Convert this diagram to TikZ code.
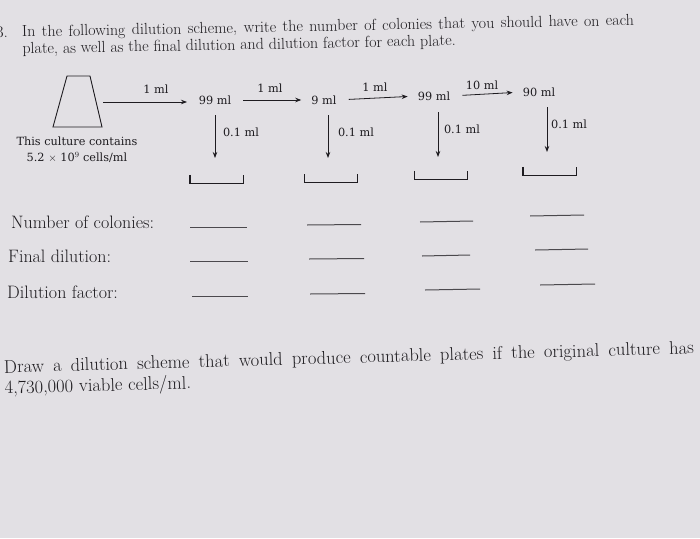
\documentclass[tikz,border=0pt]{standalone}
\usepackage{fontspec}
\newfontfamily\schemefont{DejaVu Serif}
\usetikzlibrary{arrows.meta}
\definecolor{paper}{RGB}{226,224,228}
\definecolor{ink}{RGB}{30,28,32}
\begin{document}
\begin{tikzpicture}[x=1pt,y=-1pt,
  every node/.style={text=ink},
  arr/.style={draw=ink,line width=0.8pt,-{Stealth[length=6pt,width=4.5pt]}},
  body/.style={font=\fontsize{16}{17}\selectfont,anchor=base west,inner sep=0pt},
  rowlab/.style={font=\fontsize{18}{19}\selectfont,anchor=base west,inner sep=0pt},
  sch/.style={font=\schemefont\fontsize{11.3}{16}\selectfont,inner sep=0pt},
  vol/.style={sch,anchor=center},
  plate/.style={minimum width=53pt,minimum height=8pt,inner sep=0pt,draw=none},
  bracket/.style={draw=ink,line width=1.4pt},
  blank/.style={draw=ink!80,line width=1pt}]
\fill[paper] (0,0) rectangle (700,538);
\useasboundingbox (0,0) rectangle (700,538);
% title
\node[body,anchor=base east,rotate=1.1] (num) at (8,37.3) {3.};
\node[body,rotate=1.1,text width=612pt,align=justify] (t1) at (22,37) {In the following dilution scheme, write the number of colonies that you should have on each\linebreak plate, as well as the final dilution and dilution factor for each plate.};
% flask
\draw[draw=ink,line width=0.9pt] (53,127) -- (67,76) -- (90,76) -- (102,127) -- cycle;
\coordinate (flask) at (103,102);
\node[sch,align=center,anchor=north] (c1) at (77,137) {This culture contains\\5.2 $\times$ 10$^{9}$ cells/ml};
% volumes
\node[vol] (v1) at (215,100) {99 ml};
\node[vol] (v2) at (324,100) {9 ml};
\node[vol] (v3) at (434,96) {99 ml};
\node[vol] (v4) at (539,92) {90 ml};
% transfer arrows
\draw[arr] (flask) -- (187,102) coordinate (e1);
\draw[arr,shorten <=12pt,shorten >=10pt] (v1.east) -- (v2.west);
\draw[arr,shorten <=12pt,shorten >=10pt] (v2.east) -- (v3.west);
\draw[arr,shorten <=12pt,shorten >=10pt] (v3.east) -- (v4.west);
\node[vol] (l1) at (156,89) {1 ml};
\node[vol] (l2) at (270,88) {1 ml};
\node[vol] (l3) at (375,87) {1 ml};
\node[vol] (l4) at (482,85) {10 ml};
% plates
\node[plate] (p1) at (216.5,179) {};
\node[plate] (p2) at (331,178.5) {};
\node[plate] (p3) at (441,175) {};
\node[plate] (p4) at (549.5,171) {};
\foreach \p in {p1,p2,p3,p4}
  \draw[bracket] (\p.north west) -- (\p.south west) -- (\p.south east) -- (\p.north east);
% plating arrows
\draw[arr] (215,115) coordinate (s1) -- (215,158) coordinate (d1);
\draw[arr] (328,115) coordinate (s2) -- (328,158) coordinate (d2);
\draw[arr] (438,112) coordinate (s3) -- (438,157) coordinate (d3);
\draw[arr] (547,107) coordinate (s4) -- (547,152) coordinate (d4);
\node[vol] (q1) at (241,132) {0.1 ml};
\node[vol] (q2) at (356,132) {0.1 ml};
\node[vol] (q3) at (462,129) {0.1 ml};
\node[vol] (q4) at (569,124) {0.1 ml};
% answer rows
\node[rowlab] (r1) at (11,228) {Number of colonies:};
\node[rowlab] (r2) at (8,262) {Final dilution:};
\node[rowlab] (r3) at (7,298) {Dilution factor:};
\draw[blank] (190,227) -- (247,227);
\draw[blank] (307,225) -- (361,224.5);
\draw[blank] (420,222) -- (473,221);
\draw[blank] (530,216) -- (584,215);
\draw[blank] (190,261) -- (248,261);
\draw[blank] (309,259) -- (364,258.5);
\draw[blank] (422,256) -- (470,255);
\draw[blank] (535,250) -- (588,249);
\draw[blank] (192,296) -- (248,296);
\draw[blank] (310,294) -- (365,293.5);
\draw[blank] (425,290) -- (480,289);
\draw[blank] (540,285) -- (595,284);
% bottom question
\node[anchor=base west,inner sep=0pt,rotate=1.6,text width=690pt,align=justify,font=\fontsize{18.5}{21}\selectfont] (b) at (4,373) {Draw a dilution scheme that would produce countable plates if the original culture has\linebreak 4,730,000 viable cells/ml.};
\end{tikzpicture}
\end{document}
